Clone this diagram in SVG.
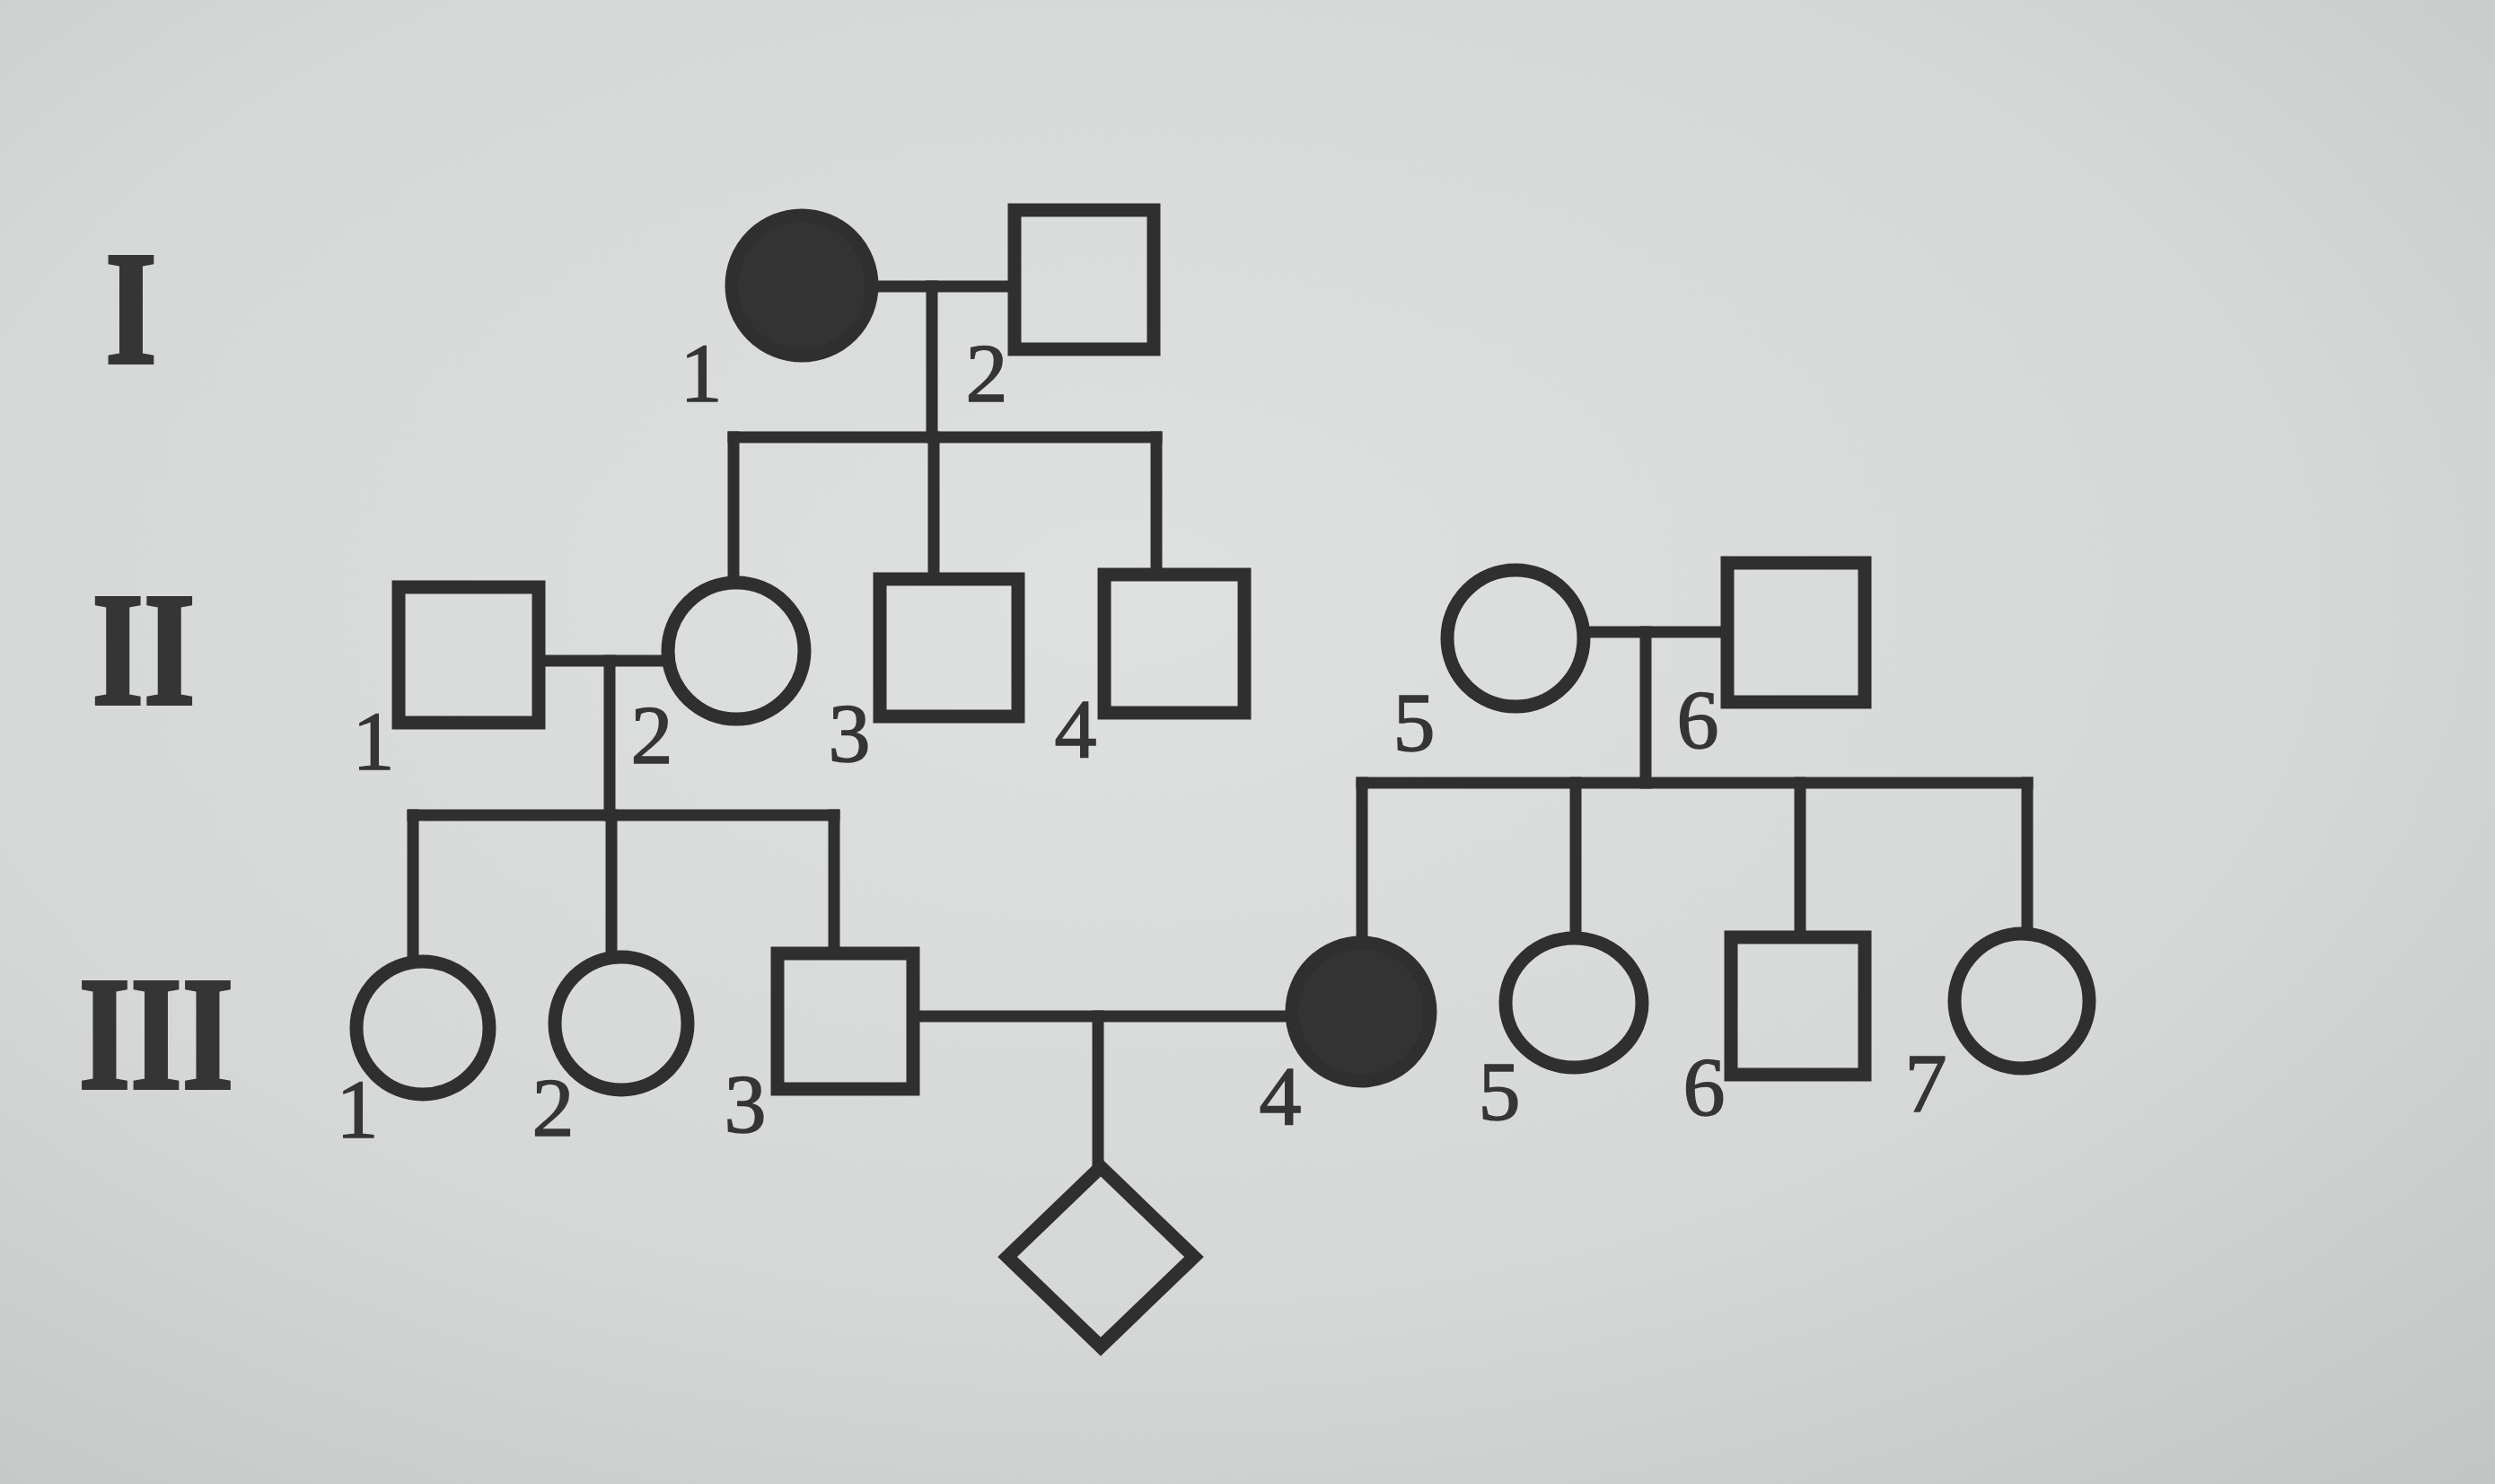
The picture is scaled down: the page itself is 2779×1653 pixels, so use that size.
<svg xmlns="http://www.w3.org/2000/svg" width="2779" height="1653" viewBox="0 0 2779 1653">
<defs>
<radialGradient id="bg" cx="0.45" cy="0.4" r="0.8">
<stop offset="0" stop-color="#dfe1e0"/>
<stop offset="0.6" stop-color="#d6d8d7"/>
<stop offset="1" stop-color="#c4c6c5"/>
</radialGradient>
<style>
.sh{fill:none;stroke:#2f2f2f;stroke-width:15}
.aff{fill:#333;stroke:#2f2f2f;stroke-width:15}
.ln{fill:none;stroke:#2f2f2f;stroke-width:13;stroke-linecap:square}
.gen{font-family:"Liberation Serif","Times New Roman",serif;font-weight:bold;font-size:180px;fill:#353535;stroke:#353535;stroke-width:4;text-anchor:middle}
.num{font-family:"Liberation Serif","Times New Roman",serif;font-size:94px;fill:#353535;stroke:#353535;stroke-width:1.5;text-anchor:middle}
</style>
</defs>
<rect x="0" y="0" width="2779" height="1653" fill="url(#bg)"/>
<g id="generation-labels">
<text class="gen" transform="translate(146,404) scale(0.82,1)" x="0" y="0">I</text>
<text class="gen" transform="translate(160,784) scale(0.82,1)" x="0" y="0">II</text>
<text class="gen" transform="translate(174,1212) scale(0.82,1)" x="0" y="0">III</text>
</g>
<g id="connectors">
<path class="ln" d="M978 319 H1123"/>
<path class="ln" d="M1038 319 V487"/>
<path class="ln" d="M817 487 H1288"/>
<path class="ln" d="M817 487 V649"/>
<path class="ln" d="M1040 487 V645"/>
<path class="ln" d="M1288 487 V640"/>
<path class="ln" d="M607 736 H744"/>
<path class="ln" d="M679 736 V908"/>
<path class="ln" d="M460 908 H929"/>
<path class="ln" d="M460 908 V1071"/>
<path class="ln" d="M681 908 V1067"/>
<path class="ln" d="M929 908 V1062"/>
<path class="ln" d="M1024 1132 H1439"/>
<path class="ln" d="M1223 1132 V1300"/>
<path class="ln" d="M1764 704 H1924"/>
<path class="ln" d="M1833 704 V872"/>
<path class="ln" d="M1517 872 H2258"/>
<path class="ln" d="M1517 872 V1050"/>
<path class="ln" d="M1755 872 V1043"/>
<path class="ln" d="M2005 872 V1044"/>
<path class="ln" d="M2258 872 V1040"/>
</g>
<g id="I-1"><circle class="aff" cx="893" cy="318" r="78"/><text class="num" x="781" y="447">1</text></g>
<g id="I-2"><rect class="sh" x="1130" y="234" width="155" height="155"/><text class="num" x="1099" y="447">2</text></g>
<g id="II-1"><rect class="sh" x="444" y="654" width="156" height="151"/><text class="num" x="416" y="857">1</text></g>
<g id="II-2"><circle class="sh" cx="820" cy="725" r="76"/><text class="num" x="726" y="850">2</text></g>
<g id="II-3"><rect class="sh" x="980" y="645" width="154" height="153"/><text class="num" x="946" y="848">3</text></g>
<g id="II-4"><rect class="sh" x="1230" y="640" width="156" height="154"/><text class="num" x="1198" y="843">4</text></g>
<g id="II-5"><circle class="sh" cx="1688" cy="711" r="76"/><text class="num" x="1575" y="836">5</text></g>
<g id="II-6"><rect class="sh" x="1924" y="627" width="153" height="155"/><text class="num" x="1891" y="833">6</text></g>
<g id="III-1"><circle class="sh" cx="471" cy="1145" r="74"/><text class="num" x="398" y="1267">1</text></g>
<g id="III-2"><circle class="sh" cx="692" cy="1140" r="74"/><text class="num" x="616" y="1265">2</text></g>
<g id="III-3"><rect class="sh" x="866" y="1062" width="151" height="151"/><text class="num" x="830" y="1261">3</text></g>
<g id="III-4"><circle class="aff" cx="1516" cy="1127" r="77"/><text class="num" x="1426" y="1252">4</text></g>
<g id="III-5"><ellipse class="sh" cx="1753" cy="1117" rx="76" ry="72"/><text class="num" x="1670" y="1247">5</text></g>
<g id="III-6"><rect class="sh" x="1928" y="1044" width="149" height="153"/><text class="num" x="1898" y="1242">6</text></g>
<g id="III-7"><circle class="sh" cx="2252" cy="1115" r="75"/><text class="num" x="2145" y="1238">7</text></g>
<g id="IV-1"><polygon class="sh" points="1226,1300 1330,1400 1226,1500 1122,1400"/></g>
</svg>
